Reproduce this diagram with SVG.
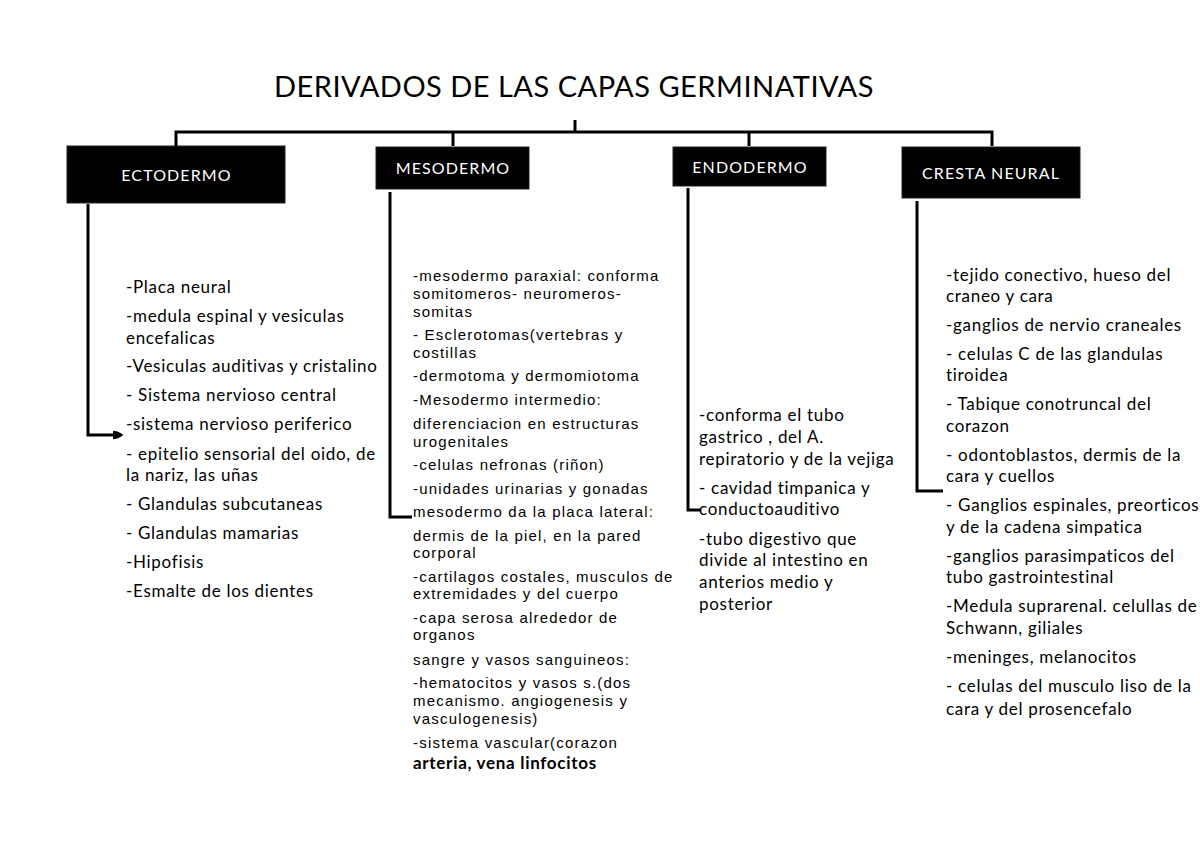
<svg xmlns="http://www.w3.org/2000/svg" width="1200" height="849" viewBox="0 0 1200 849">
<style>
.box{fill:#000;stroke:#222;stroke-width:1}
.lbl{font-family:Lato,"Liberation Sans",sans-serif;font-size:16px;fill:#fff;text-anchor:middle;letter-spacing:1.1px}
.lt{font-family:Lato,"Liberation Sans",sans-serif;font-size:17px;fill:#000;letter-spacing:0.7px}
.ar{font-family:"Liberation Sans",Arial,sans-serif;font-size:15px;fill:#000;letter-spacing:1.2px}
.ln{stroke:#000;stroke-width:3;fill:none}
.title{font-family:Lato,"Liberation Sans",sans-serif;font-size:29px;fill:#000;text-anchor:middle;letter-spacing:0.5px}
</style>
<defs>
<marker id="ah" viewBox="0 0 10 10" refX="2" refY="5" markerWidth="3.5" markerHeight="3.5" orient="auto" markerUnits="strokeWidth">
<path d="M0,1 Q5,1 10,5 Q5,9 0,9 Z" fill="#000"/>
</marker>
</defs>
<rect width="1200" height="849" fill="#fff"/>
<text class="title" x="574" y="97">DERIVADOS DE LAS CAPAS GERMINATIVAS</text>
<g id="connectors">
<path class="ln" d="M575,120 V132"/>
<path class="ln" d="M176,146 V132 H992 V146"/>
<path class="ln" d="M453,132 V146"/>
<path class="ln" d="M749,132 V146"/>
<path class="ln" d="M88,204 V435 H115" stroke-width="4" marker-end="url(#ah)"/>
<path class="ln" d="M390,192 V517 H412" stroke-width="3"/>
<path class="ln" d="M688,188 V510 H701" stroke-width="3"/>
<path class="ln" d="M917,201 V491 H943" stroke-width="3"/>
</g>
<g id="ectodermo">
<rect class="box" x="67" y="146" width="218" height="57"/>
<text class="lbl" x="176.5" y="181">ECTODERMO</text>
</g>
<g id="mesodermo">
<rect class="box" x="376" y="147" width="153" height="42"/>
<text class="lbl" x="453" y="174">MESODERMO</text>
</g>
<g id="endodermo">
<rect class="box" x="673" y="147" width="153" height="39"/>
<text class="lbl" x="750" y="173">ENDODERMO</text>
</g>
<g id="cresta-neural">
<rect class="box" x="902" y="147" width="178" height="51"/>
<text class="lbl" x="991" y="179">CRESTA NEURAL</text>
</g>
<g id="ectodermo-text" class="lt">
<text x="126" y="293">-Placa neural</text>
<text x="126" y="322">-medula espinal y vesiculas</text>
<text x="126" y="344">encefalicas</text>
<text x="126" y="372">-Vesiculas auditivas y cristalino</text>
<text x="126" y="401">- Sistema nervioso central</text>
<text x="126" y="430">-sistema nervioso periferico</text>
<text x="126" y="460">- epitelio sensorial del oido, de</text>
<text x="126" y="481">la nariz, las uñas</text>
<text x="126" y="510">- Glandulas subcutaneas</text>
<text x="126" y="539">- Glandulas mamarias</text>
<text x="126" y="568">-Hipofisis</text>
<text x="126" y="597">-Esmalte de los dientes</text>
</g>
<g id="mesodermo-text" class="ar">
<text x="413" y="281">-mesodermo paraxial: conforma</text>
<text x="413" y="299">somitomeros- neuromeros-</text>
<text x="413" y="317">somitas</text>
<text x="413" y="340">- Esclerotomas(vertebras y</text>
<text x="413" y="358">costillas</text>
<text x="413" y="381">-dermotoma y dermomiotoma</text>
<text x="413" y="405">-Mesodermo intermedio:</text>
<text x="413" y="429">diferenciacion en estructuras</text>
<text x="413" y="447">urogenitales</text>
<text x="413" y="470">-celulas nefronas (riñon)</text>
<text x="413" y="494">-unidades urinarias y gonadas</text>
<text x="413" y="517">mesodermo da la placa lateral:</text>
<text x="413" y="541">dermis de la piel, en la pared</text>
<text x="413" y="558">corporal</text>
<text x="413" y="582">-cartilagos costales, musculos de</text>
<text x="413" y="599">extremidades y del cuerpo</text>
<text x="413" y="623">-capa serosa alrededor de</text>
<text x="413" y="640">organos</text>
<text x="413" y="665">sangre y vasos sanguineos:</text>
<text x="413" y="688">-hematocitos y vasos s.(dos</text>
<text x="413" y="706">mecanismo. angiogenesis y</text>
<text x="413" y="724">vasculogenesis)</text>
<text x="413" y="748">-sistema vascular(corazon</text>
<text x="413" y="769" class="lt" font-weight="bold">arteria, vena linfocitos</text>
</g>
<g id="endodermo-text" class="lt">
<text x="699" y="421">-conforma el tubo</text>
<text x="699" y="443">gastrico , del A.</text>
<text x="699" y="465">repiratorio y de la vejiga</text>
<text x="699" y="494">- cavidad timpanica y</text>
<text x="699" y="515">conductoauditivo</text>
<text x="699" y="545">-tubo digestivo que</text>
<text x="699" y="566">divide al intestino en</text>
<text x="699" y="588">anterios medio y</text>
<text x="699" y="610">posterior</text>
</g>
<g id="cresta-text" class="lt">
<text x="946" y="281">-tejido conectivo, hueso del</text>
<text x="946" y="302">craneo y cara</text>
<text x="946" y="331">-ganglios de nervio craneales</text>
<text x="946" y="360">- celulas C de las glandulas</text>
<text x="946" y="381">tiroidea</text>
<text x="946" y="410">- Tabique conotruncal del</text>
<text x="946" y="432">corazon</text>
<text x="946" y="461">- odontoblastos, dermis de la</text>
<text x="946" y="482">cara y cuellos</text>
<text x="946" y="511">- Ganglios espinales, preorticos</text>
<text x="946" y="533">y de la cadena simpatica</text>
<text x="946" y="562">-ganglios parasimpaticos del</text>
<text x="946" y="583">tubo gastrointestinal</text>
<text x="946" y="612">-Medula suprarenal. celullas de</text>
<text x="946" y="634">Schwann, giliales</text>
<text x="946" y="663">-meninges, melanocitos</text>
<text x="946" y="692">- celulas del musculo liso de la</text>
<text x="946" y="715">cara y del prosencefalo</text>
</g>
</svg>
